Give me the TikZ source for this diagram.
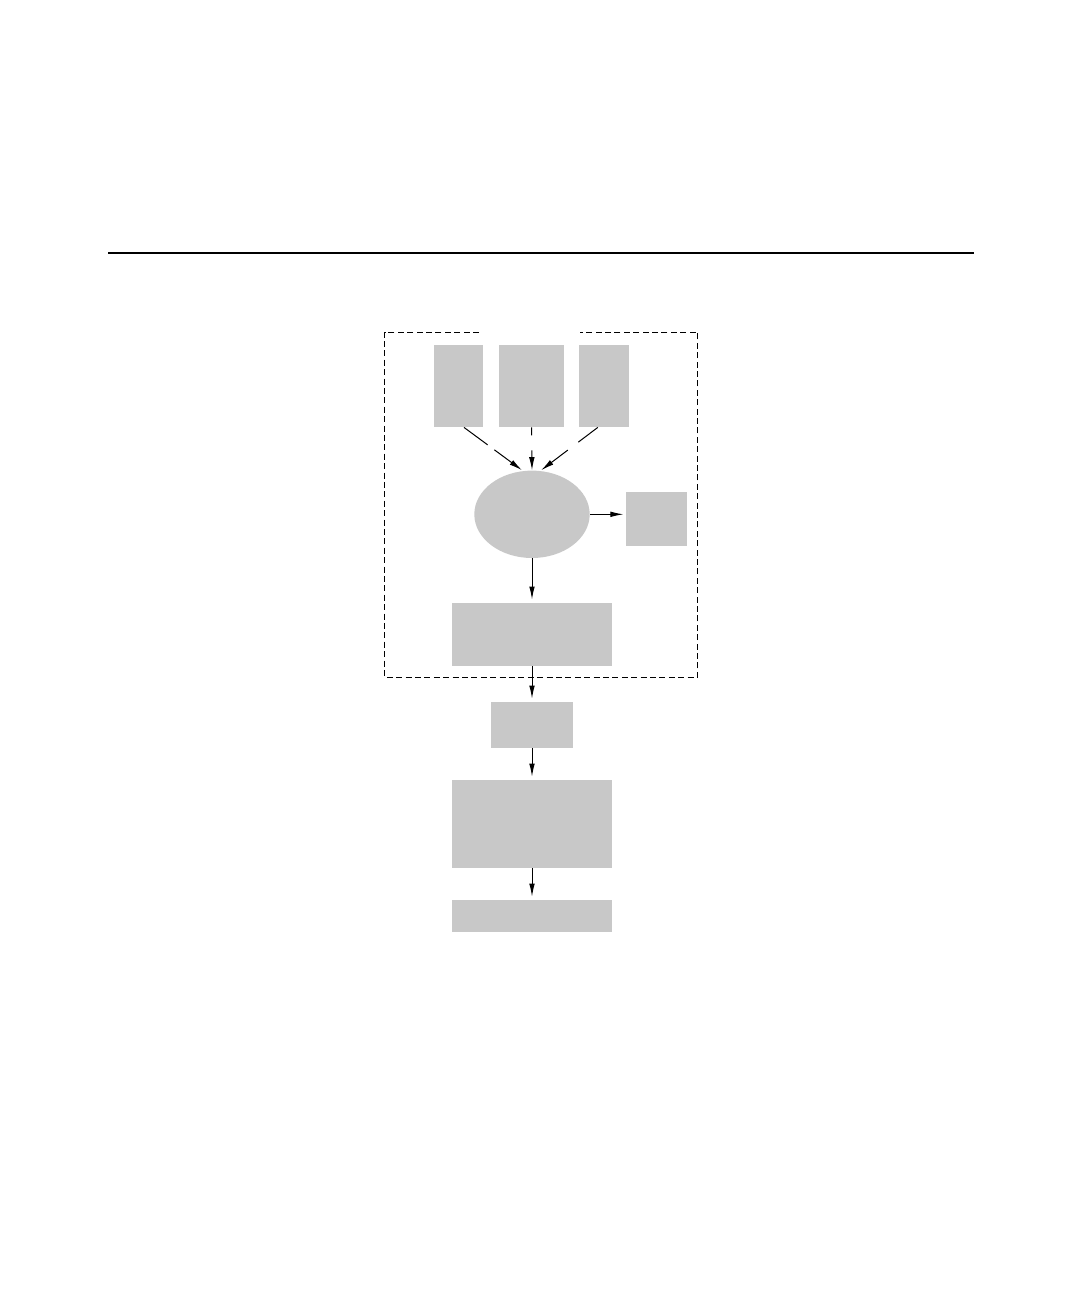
\documentclass[tikz,border=0pt]{standalone}
\usepackage{tikz}
\usetikzlibrary{shapes.geometric,arrows.meta}
\definecolor{boxgray}{HTML}{C8C8C8}
\tikzstyle{block} = [rectangle, fill=boxgray, draw=none, inner sep=0pt]
\tikzstyle{blob} = [ellipse, fill=boxgray, draw=none, inner sep=0pt,
  minimum width=57.7pt, minimum height=43.7pt]
\tikzstyle{line} = [draw, line width=0.5pt, -{Latex[length=6.5pt,width=2.8pt]}]
\tikzstyle{frame} = [draw, line width=0.5pt, dash pattern=on 3pt off 1.7pt]

\begin{document}
\begin{tikzpicture}[x=0.5pt, y=-0.5pt]
    \useasboundingbox (0,0) rectangle (1081,1297);
    \draw[line width=1.1pt] (108,252.8) -- (974,252.8);

    % three inputs
    \node[block, minimum width=24.5pt, minimum height=41pt] (inA) at (458.4,386) {};
    \node[block, minimum width=32.5pt, minimum height=41pt] (inB) at (531.5,386) {};
    \node[block, minimum width=25pt, minimum height=41pt] (inC) at (603.8,386) {};
    \node[blob] (core) at (532,514.3) {};
    \node[block, minimum width=30.5pt, minimum height=27pt] (side) at (656.3,519) {};
    \node[block, minimum width=80pt, minimum height=31.5pt] (stage) at (532,634.4) {};

    % below the frame
    \node[block, minimum width=41pt, minimum height=23pt] (mid) at (532,725) {};
    \node[block, minimum width=80pt, minimum height=44pt] (big) at (532,824) {};
    \node[block, minimum width=80pt, minimum height=16pt] (out) at (532,916) {};

    \draw[frame] (479,332) -- (384.5,332) -- (384.5,677) -- (697.7,677)
      -- (697.7,332) -- (580,332);

    \path[line, dash pattern=on 14.7pt off 4.2pt on 100pt off 1pt]
      ([xshift=2.8pt]inA.south) -- ([xshift=-5pt]core.north);
    \path[line, dash pattern=on 4pt off 7.5pt on 100pt off 1pt]
      (inB.south) -- (core.north);
    \path[line, dash pattern=on 12.2pt off 6.6pt on 100pt off 1pt]
      ([xshift=-3pt]inC.south) -- ([xshift=4.6pt]core.north);
    \path[line, shorten >=1pt] (core.east) -- (core.east -| side.west);
    \path[line, shorten >=1.5pt] (core.south) -- (stage.north);
    \path[line, shorten >=1.5pt] (stage.south) -- (mid.north);
    \path[line, shorten >=1.5pt] (mid.south) -- (big.north);
    \path[line, shorten >=1.5pt] (big.south) -- (out.north);
\end{tikzpicture}
\end{document}
